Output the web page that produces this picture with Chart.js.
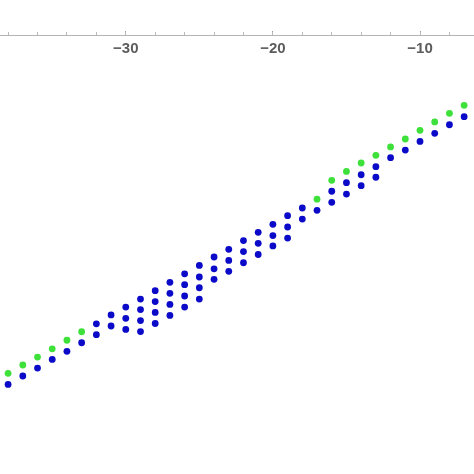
<!DOCTYPE html>
<html>
<head>
<meta charset="utf-8">
<title>Scatter</title>
<script src="https://cdn.jsdelivr.net/npm/chart.js@4.4.1/dist/chart.umd.min.js"></script>
<style>
    html, body { margin: 0; padding: 0; background: #fff; }
    #wrap { width: 474px; height: 474px; position: relative; }
</style>
</head>
<body>
<div id="wrap"><canvas id="chart"></canvas></div>
<script>
// -- Data (y below the axis, so negative) --
const greenX = [-38, -37, -36, -35, -34, -33,
    -17, -16, -15, -14, -13, -12, -11, -10, -9, -8, -7];
const greenY = [-23.00, -22.43, -21.89, -21.33, -20.75, -20.17,
    -11.16, -9.88, -9.27, -8.70, -8.18, -7.61, -7.07, -6.48, -5.91, -5.32, -4.78];

const blueX = [
    -38, -37, -36, -35, -34, -33,
    -32, -32,
    -31, -31,
    -30, -30, -30,
    -29, -29, -29, -29,
    -28, -28, -28, -28,
    -27, -27, -27, -27,
    -26, -26, -26, -26,
    -25, -25, -25, -25,
    -24, -24, -24,
    -23, -23, -23,
    -22, -22, -22,
    -21, -21, -21,
    -20, -20, -20,
    -19, -19, -19,
    -18, -18,
    -17,
    -16, -16,
    -15, -15,
    -14, -14,
    -13, -13,
    -12, -11, -10, -9, -8, -7,
];
const blueY = [
    -23.75, -23.18, -22.64, -22.05, -21.50, -20.92,
    -19.63, -20.37,
    -19.03, -19.78,
    -18.49, -19.26, -20.01,
    -17.95, -18.66, -19.41, -20.16,
    -17.38, -18.12, -18.86, -19.61,
    -16.81, -17.56, -18.31, -19.06,
    -16.23, -16.97, -17.74, -18.49,
    -15.66, -16.45, -17.18, -17.95,
    -15.09, -15.89, -16.61,
    -14.57, -15.32, -16.06,
    -13.97, -14.72, -15.48,
    -13.41, -14.16, -14.92,
    -12.87, -13.63, -14.34,
    -12.28, -13.05, -13.80,
    -11.76, -12.51,
    -11.92,
    -10.62, -11.37,
    -10.04, -10.81,
    -9.50, -10.24,
    -8.95, -9.67,
    -8.34, -7.82, -7.23, -6.68, -6.10, -5.55,
];

const majorTicks = [-30, -20, -10];

const COLORS = {
    green: '#3ee03a',
    blue: '#0a0ac8',
    axis: '#b4b4b4',
    label: '#5c5c5c',
};

function toPoints(xs, ys) {
    return xs.map((x, i) => ({ x, y: ys[i] }));
}

function minus(v) {
    return String(v).replace('-', '\u2212');
}

const X_RANGE = { min: -38.55, max: -6.33 };

new Chart(document.getElementById('chart'), {
    type: 'scatter',
    data: {
        datasets: [
            {
                data: toPoints(greenX, greenY),
                backgroundColor: COLORS.green,
                borderWidth: 0,
                pointRadius: 3.4,
                clip: false,
            },
            {
                data: toPoints(blueX, blueY),
                backgroundColor: COLORS.blue,
                borderWidth: 0,
                pointRadius: 3.4,
                clip: false,
            },
        ],
    },
    options: {
        responsive: true,
        maintainAspectRatio: false,
        animation: false,
        events: [],
        layout: { padding: 0, autoPadding: false },
        plugins: { legend: { display: false }, tooltip: { enabled: false } },
        scales: {
            y: {
                display: false,
                min: -29.84,
                max: 2.38,
            },
            // major ticks + labels, axis sits at y = 0
            x: {
                type: 'linear',
                position: { y: 0 },
                ...X_RANGE,
                border: { display: true, color: COLORS.axis, width: 1 },
                grid: { display: true, drawOnChartArea: false, drawTicks: true, tickLength: -5, tickColor: '#999' },
                ticks: {
                    stepSize: 10,
                    includeBounds: false,
                    autoSkip: false,
                    maxRotation: 0,
                    padding: 10,
                    color: COLORS.label,
                    font: { family: "'Liberation Sans', Arial, sans-serif", size: 15, weight: 'bold' },
                    callback: (v) => (majorTicks.includes(v) ? minus(v) : ''),
                },
            },
            // minor ticks every 2
            x2: {
                type: 'linear',
                axis: 'x',
                position: { y: 0 },
                ...X_RANGE,
                border: { display: false },
                grid: { display: true, drawOnChartArea: false, drawTicks: true, tickLength: -3, tickColor: '#bbb' },
                ticks: {
                    stepSize: 2,
                    includeBounds: false,
                    autoSkip: false,
                    maxRotation: 0,
                    callback: () => '',
                },
            },
        },
    },
});
</script>
</body>
</html>
